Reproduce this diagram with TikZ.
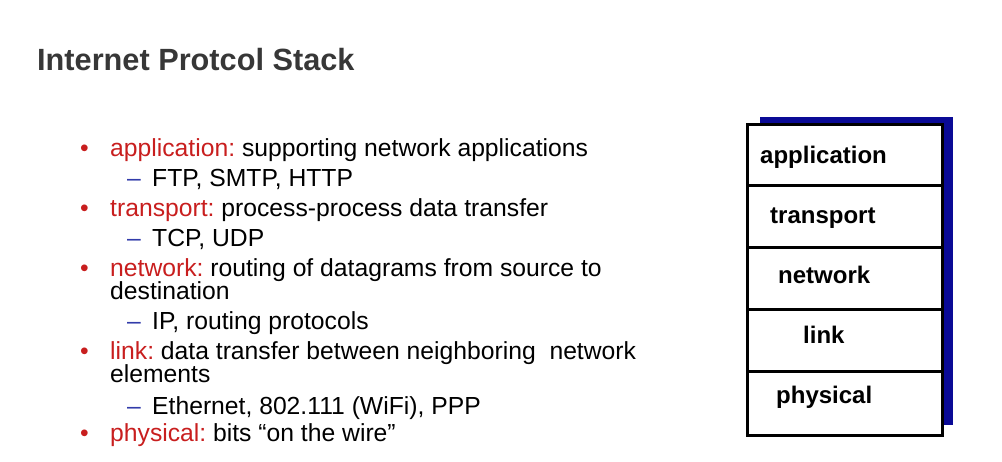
\documentclass[tikz,border=0pt]{standalone}
\usepackage{fontspec}
\setmainfont{Liberation Sans}
\definecolor{kred}{RGB}{200,30,30}
\definecolor{kblue}{RGB}{50,60,170}
\definecolor{shad}{RGB}{10,10,150}
\definecolor{ttl}{RGB}{55,55,55}
\begin{document}
\begin{tikzpicture}[x=1pt,y=-1pt,
  txt/.style={anchor=base west,inner sep=0,font=\fontsize{24.7}{28}\selectfont},
  bul/.style={anchor=base west,inner sep=0,font=\fontsize{24.7}{28}\selectfont,text=kred},
  dsh/.style={anchor=base west,inner sep=0,font=\fontsize{24.7}{28}\selectfont,text=kblue},
  lay/.style={anchor=base west,inner sep=0,font=\bfseries\fontsize{24}{28}\selectfont},
  cell/.style={draw=black,line width=3pt,fill=white}]
\useasboundingbox (0,0) rectangle (1002,462);
\node[anchor=base west,inner sep=0,text=ttl,font=\bfseries\fontsize{30.7}{33}\selectfont] (title) at (37,71) {Internet Protcol Stack};
% bullets
\node[bul] (b1) at (80,157) {•};
\node[txt] (t1) at (110,157) {\textcolor{kred}{application:}~supporting network applications};
\node[dsh] (d1) at (127,187) {–};
\node[txt] (s1) at (152,187) {FTP, SMTP, HTTP};
\node[bul] (b2) at (80,217) {•};
\node[txt] (t2) at (110,217) {\textcolor{kred}{transport:}~process-process data transfer};
\node[dsh] (d2) at (127,247) {–};
\node[txt] (s2) at (152,247) {TCP, UDP};
\node[bul] (b3) at (80,277) {•};
\node[txt] (t3) at (110,277) {\textcolor{kred}{network:}~routing of datagrams from source to};
\node[txt] (t3b) at (110,300) {destination};
\node[dsh] (d3) at (127,330) {–};
\node[txt] (s3) at (152,330) {IP, routing protocols};
\node[bul] (b4) at (80,360) {•};
\node[txt] (t4) at (110,360) {\textcolor{kred}{link:}~data transfer between neighboring\ \ network};
\node[txt] (t4b) at (110,383) {elements};
\node[dsh] (d4) at (127,414) {–};
\node[txt] (s4) at (152,414) {Ethernet, 802.111 (WiFi), PPP};
\node[bul] (b5) at (80,442) {•};
\node[txt] (t5) at (110,442) {\textcolor{kred}{physical:}~bits “on the wire”};
% stack
\fill[shad] (760,117) rectangle (953,425);
\draw[cell] (747,125) rectangle (942,186);
\draw[cell] (747,186) rectangle (942,248);
\draw[cell] (747,248) rectangle (942,310);
\draw[cell] (747,310) rectangle (942,372);
\draw[cell] (747,372) rectangle (942,435);
\node[lay] (l1) at (760,164) {application};
\node[lay] (l2) at (770,224) {transport};
\node[lay] (l3) at (778,284) {network};
\node[lay] (l4) at (803,344) {link};
\node[lay] (l5) at (776,403) {physical};
\end{tikzpicture}
\end{document}
